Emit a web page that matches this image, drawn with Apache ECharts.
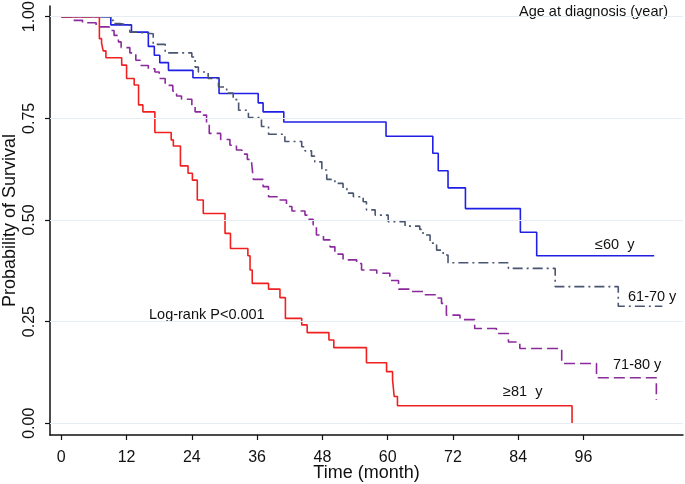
<!DOCTYPE html>
<html>
<head>
<meta charset="utf-8">
<script src="https://cdn.jsdelivr.net/npm/echarts@6/dist/echarts.min.js"></script>
<style>
html,body{margin:0;padding:0;background:#fff;}
#chart{width:685px;height:484px;}
</style>
</head>
<body>
<div id="chart"></div>
<script>
// ---- data ----
var xTicks = [0, 12, 24, 36, 48, 60, 72, 84, 96];
var yTicks = [0, 0.25, 0.5, 0.75, 1];

var g60Time = [0, 9.1, 12.9, 16.0, 17.1, 18.1, 19.7, 24.2, 29.0, 36.2, 37.1, 40.9, 59.7, 68.3, 69.3, 71.1, 74.3, 84.4, 87.4, 109];
var g60Surv = [1, 0.980, 0.962, 0.927, 0.905, 0.887, 0.868, 0.850, 0.811, 0.788, 0.766, 0.741, 0.706, 0.664, 0.621, 0.579, 0.528, 0.470, 0.412, 0.412];

var g70Time = [0, 9.0, 9.6, 10.8, 12.6, 13.9, 16.9, 19.1, 24.0, 24.6, 25.2, 27.0, 28.9, 30.4, 31.6, 32.6, 34.4, 36.8, 38.1, 41.1, 44.2, 44.8, 46.0, 46.6, 47.9, 48.8, 50.3, 51.8, 52.5, 53.7, 55.5, 56.1, 57.7, 60.1, 63.2, 65.9, 66.5, 67.8, 69.0, 70.2, 71.1, 82.2, 90.8, 102.4, 110.5];
var g70Surv = [1, 0.991, 0.983, 0.979, 0.962, 0.958, 0.932, 0.911, 0.901, 0.876, 0.864, 0.848, 0.827, 0.812, 0.796, 0.770, 0.752, 0.730, 0.711, 0.693, 0.680, 0.670, 0.657, 0.643, 0.623, 0.600, 0.590, 0.578, 0.566, 0.557, 0.545, 0.525, 0.512, 0.496, 0.485, 0.477, 0.463, 0.443, 0.426, 0.414, 0.395, 0.381, 0.336, 0.288, 0.288];

var g80Time = [0, 2.1, 3.9, 6.4, 8.8, 9.7, 10.5, 11.0, 12.6, 13.7, 14.5, 16.0, 17.2, 18.0, 19.1, 20.5, 21.2, 22.1, 24.0, 24.6, 26.1, 26.7, 27.2, 29.3, 31.0, 32.2, 33.2, 34.2, 35.0, 35.3, 37.1, 38.1, 39.9, 41.4, 42.4, 44.8, 45.4, 46.3, 46.9, 48.2, 49.4, 50.3, 51.8, 54.3, 55.2, 58.0, 60.4, 62.0, 64.4, 66.5, 69.0, 69.9, 70.8, 73.3, 76.0, 80.0, 82.2, 84.3, 92.0, 98.4, 109.4];
var g80Surv = [1, 0.991, 0.985, 0.975, 0.966, 0.954, 0.938, 0.924, 0.911, 0.893, 0.880, 0.872, 0.864, 0.848, 0.831, 0.817, 0.805, 0.797, 0.782, 0.766, 0.758, 0.737, 0.713, 0.698, 0.684, 0.672, 0.662, 0.649, 0.639, 0.600, 0.582, 0.557, 0.549, 0.533, 0.522, 0.512, 0.502, 0.488, 0.463, 0.451, 0.434, 0.416, 0.402, 0.393, 0.377, 0.369, 0.351, 0.330, 0.324, 0.316, 0.308, 0.295, 0.266, 0.255, 0.233, 0.221, 0.200, 0.184, 0.147, 0.112, 0.057];

var g81Time = [0, 7.0, 7.4, 7.7, 8.2, 11.1, 12.0, 13.4, 14.2, 15.0, 17.2, 20.2, 20.6, 21.9, 23.3, 24.1, 25.0, 26.1, 30.1, 31.1, 34.3, 34.7, 35.1, 38.1, 40.2, 41.2, 44.2, 45.2, 49.2, 50.1, 56.1, 59.8, 60.9, 61.2, 61.8, 93.9];
var g81Surv = [1, 0.946, 0.935, 0.916, 0.899, 0.881, 0.848, 0.832, 0.783, 0.766, 0.715, 0.697, 0.682, 0.633, 0.615, 0.598, 0.549, 0.516, 0.467, 0.430, 0.412, 0.377, 0.344, 0.330, 0.309, 0.258, 0.242, 0.223, 0.205, 0.186, 0.149, 0.127, 0.107, 0.066, 0.043, 0];

function pairs(t, s) { return t.map(function (v, i) { return [v, s[i]]; }); }

var FONT = "'Liberation Sans', Arial, sans-serif";
var chart = echarts.init(document.getElementById('chart'));

function kmSeries(name, t, s, color, type) {
  return {
    name: name, type: 'line', step: 'end', symbol: 'none', z: 3,
    data: pairs(t, s),
    lineStyle: { color: color, width: 1.6, type: type },
    animation: false
  };
}

chart.setOption({
  backgroundColor: '#fff',
  animation: false,
  grid: { left: 50, right: 2, top: 6, bottom: 49, containLabel: false, outerBoundsMode: 'none' },
  xAxis: {
    type: 'value', min: -2.08, max: 114.3,
    name: 'Time (month)', nameLocation: 'middle', nameGap: 29, nameMoveOverlap: false,
    nameTextStyle: { fontFamily: FONT, fontSize: 18, color: '#111' },
    axisLine: { onZero: false, lineStyle: { color: '#111', width: 1.5 } },
    axisTick: { show: true, customValues: xTicks, length: 5, lineStyle: { color: '#111', width: 1.2 } },
    axisLabel: { customValues: xTicks, fontFamily: FONT, fontSize: 16, color: '#111', margin: 15 },
    splitLine: { show: false }
  },
  yAxis: {
    type: 'value', min: -0.0288, max: 1.0263,
    name: 'Probability of Survival', nameLocation: 'middle', nameGap: 31, nameMoveOverlap: false,
    nameTextStyle: { fontFamily: FONT, fontSize: 18, color: '#111' },
    axisLine: { show: true, onZero: false, lineStyle: { color: '#111', width: 1.5 } },
    axisTick: { show: true, customValues: yTicks, length: 5, lineStyle: { color: '#111', width: 1.2 } },
    axisLabel: { customValues: yTicks, rotate: 90, fontFamily: FONT, fontSize: 16, color: '#111', margin: 12,
      formatter: function (v) { return v.toFixed(2); } },
    splitLine: { show: false }
  },
  series: [
    {
      type: 'line', data: [], z: 1, silent: true,
      markLine: {
        silent: true, symbol: ['none', 'none'], label: { show: false },
        lineStyle: { color: '#e6edf3', width: 1, type: 'solid' },
        data: yTicks.map(function (v) { return { yAxis: v }; }),
        animation: false
      }
    },
    kmSeries('≤60 y', g60Time, g60Surv, '#1f1fe6', 'solid'),
    kmSeries('61-70 y', g70Time, g70Surv, '#4a5572', [10, 4, 2, 4]),
    kmSeries('71-80 y', g80Time, g80Surv, '#8a2a9c', [11, 5]),
    kmSeries('≥81 y', g81Time, g81Surv, '#f02020', 'solid')
  ],
  graphic: [
    { type: 'text', left: 519, top: 4, style: { text: 'Age at diagnosis (year)', font: '14.5px ' + FONT, fill: '#111' } },
    { type: 'text', left: 149, top: 307, style: { text: 'Log-rank P<0.001', font: '14.5px ' + FONT, fill: '#111' } },
    { type: 'text', left: 595, top: 237, style: { text: '≤60  y', font: '14.5px ' + FONT, fill: '#111' } },
    { type: 'text', left: 628, top: 289, style: { text: '61-70 y', font: '14.5px ' + FONT, fill: '#111' } },
    { type: 'text', left: 613, top: 357, style: { text: '71-80 y', font: '14.5px ' + FONT, fill: '#111' } },
    { type: 'text', left: 503, top: 384, style: { text: '≥81  y', font: '14.5px ' + FONT, fill: '#111' } }
  ]
});
</script>
</body>
</html>
